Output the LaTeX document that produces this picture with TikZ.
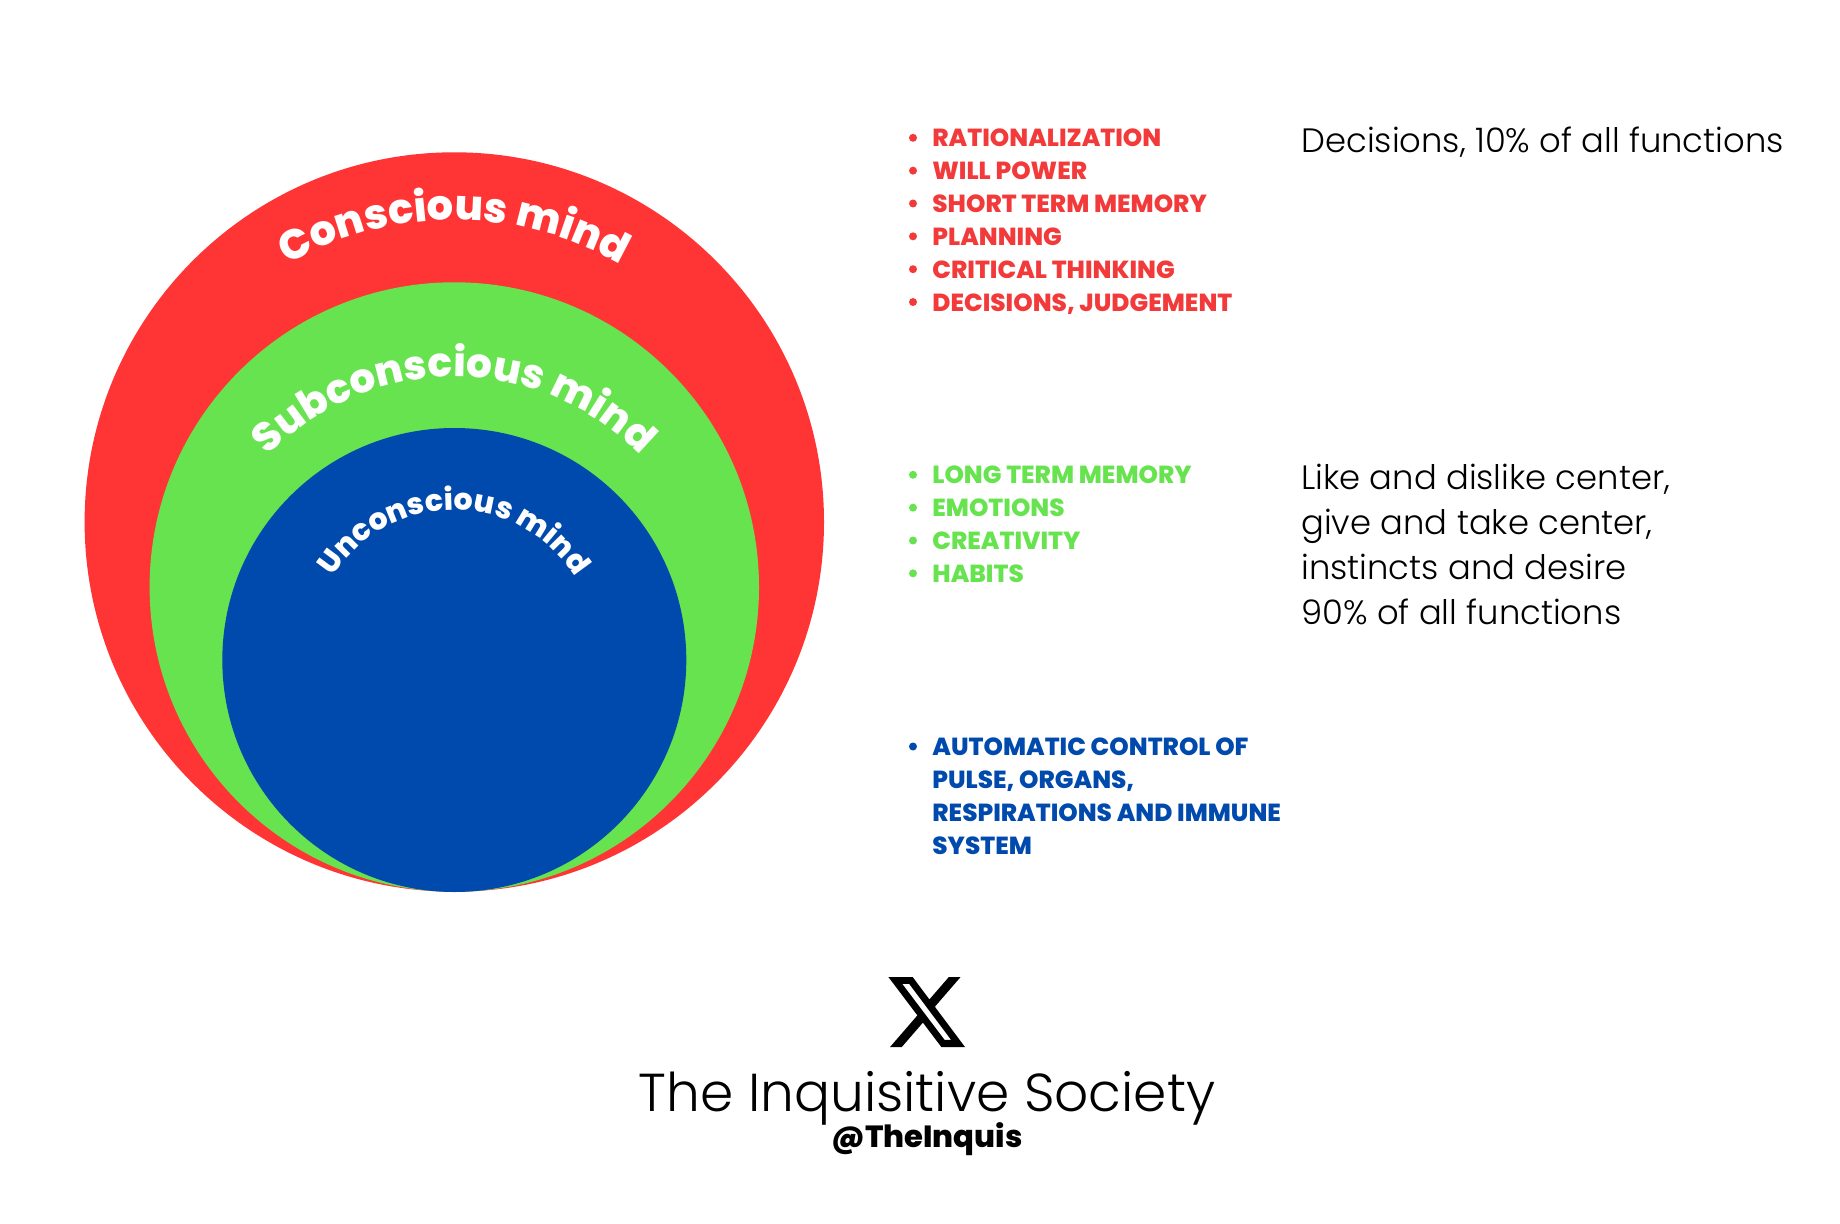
\documentclass[tikz,border=0pt]{standalone}
\usepackage{fontspec}
\usetikzlibrary{calc,decorations.text}
\setmainfont{Poppins}
\newfontfamily\lightfont{Poppins Light}
\newfontfamily\heavyfont{Poppins ExtraBold}
\definecolor{mindred}{HTML}{FF3535}
\definecolor{itemred}{HTML}{F23A3A}
\definecolor{mindgreen}{HTML}{66E34E}
\definecolor{mindblue}{HTML}{004AAD}
\tikzset{
  itemtext/.style={anchor=base west,inner sep=0pt,font=\heavyfont\fontsize{12.35}{14}\selectfont},
  notetext/.style={anchor=base west,inner sep=0pt,font=\lightfont\fontsize{16.9}{20}\selectfont},
  curvetext/.style={decorate,decoration={text along path,text align=center,text={#1}}}
}
\begin{document}
\begin{tikzpicture}[x=0.5pt,y=-0.5pt]
  \useasboundingbox (0,0) rectangle (1840,1224);

  \fill [mindred] (454.3,522) circle [radius=369.7];
  \fill [mindgreen] (454.3,587) circle [radius=304.7];
  \fill [mindblue] (454.3,660) circle [radius=232];

  \coordinate (consciouscentre) at (454,554);
  \coordinate (subconsciouscentre) at (454,637);
  \coordinate (unconsciouscentre) at (454,653);
  \path [curvetext={|\heavyfont\fontsize{20.8}{25}\selectfont\color{white}|Conscious mind}]
    ($(consciouscentre)+(-170:334)$) arc [start angle=-170,end angle=-10,radius=334];
  \path [curvetext={|\heavyfont\fontsize{20.3}{25}\selectfont\color{white}|Subconscious mind}]
    ($(subconsciouscentre)+(-175:260)$) arc [start angle=-175,end angle=-5,radius=260];
  \path [curvetext={|\heavyfont\fontsize{15}{18}\selectfont\color{white}|Unconscious mind}]
    ($(unconsciouscentre)+(-180:143)$) arc [start angle=-180,end angle=0,radius=143];

  \foreach \item [count=\i] in {RATIONALIZATION,WILL POWER,SHORT TERM MEMORY,PLANNING,CRITICAL THINKING,{DECISIONS, JUDGEMENT}}
  {
    \fill [itemred] (913,137.8+32.85*\i-32.85) circle [radius=4];
    \node [itemtext,text=itemred] (reditem\i) at (932,146.8+32.85*\i-32.85) {\item};
  }
  \foreach \item [count=\i] in {LONG TERM MEMORY,EMOTIONS,CREATIVITY,HABITS}
  {
    \fill [mindgreen] (913,474.8+32.85*\i-32.85) circle [radius=4];
    \node [itemtext,text=mindgreen] (greenitem\i) at (932,483.6+32.85*\i-32.85) {\item};
  }
  \fill [mindblue] (913,746.5) circle [radius=4];
  \foreach \item [count=\i] in {AUTOMATIC CONTROL OF,{PULSE, ORGANS,},RESPIRATIONS AND IMMUNE,SYSTEM}
    \node [itemtext,text=mindblue] (blueitem\i) at (932,755.6+32.85*\i-32.85) {\item};

  \node [notetext] (decisions) at (1301,153) {Decisions, 10\% of all functions};
  \foreach \note [count=\i] in {{Like and dislike center,},{give and take center,},instincts and desire,90\% of all functions}
    \node [notetext] (likenote\i) at (1301,489.5+45*\i-45) {\note};

  \begin{scope}[shift={(884,969)},x=1.775pt,y=-1.795pt]
    \fill [black,even odd rule] (18.244,2.25) -- (21.552,2.25) -- (14.325,10.51) -- (22.827,21.75) -- (16.17,21.75)
      -- (10.956,14.933) -- (4.99,21.75) -- (1.68,21.75) -- (9.41,12.915) -- (1.254,2.25) -- (8.08,2.25) -- (12.793,8.481) -- cycle
      (17.083,19.77) -- (18.916,19.77) -- (7.084,4.126) -- (5.117,4.126) -- cycle;
  \end{scope}
  \node [anchor=base,inner sep=0pt,font=\lightfont\fontsize{26.7}{32}\selectfont] (society) at (927,1111) {The Inquisitive Society};
  \node [anchor=base,inner sep=0pt,font=\heavyfont\fontsize{15.3}{18}\selectfont] (handle) at (927,1147) {@TheInquis};
\end{tikzpicture}
\end{document}
